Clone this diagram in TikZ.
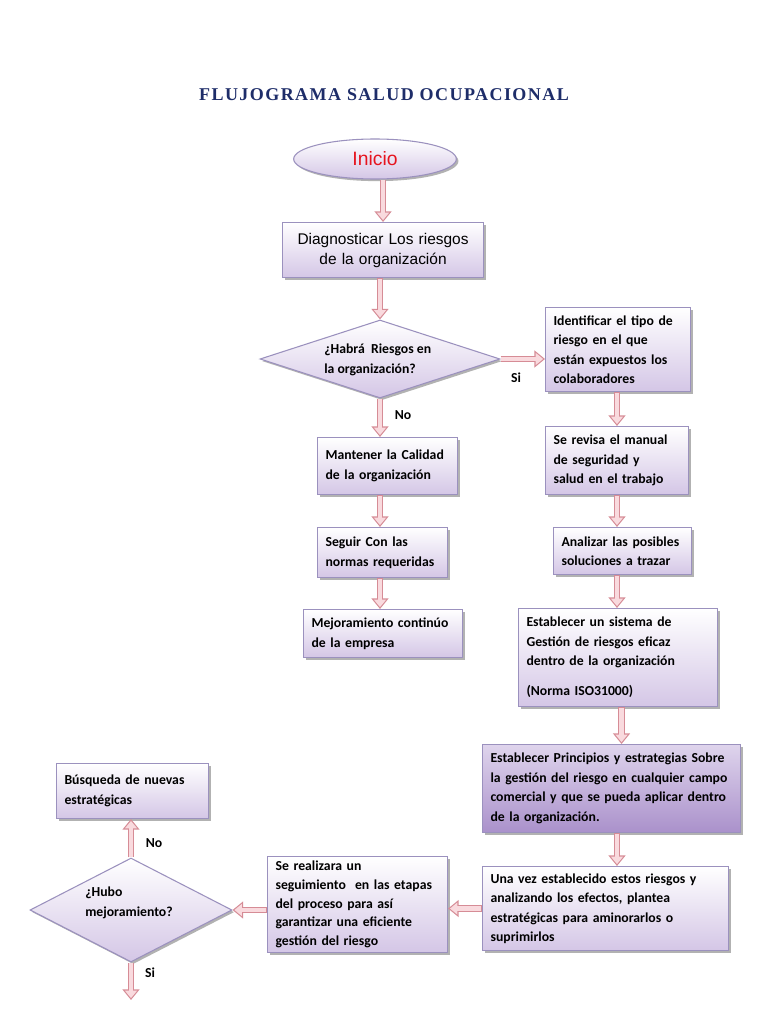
\documentclass[tikz,border=0pt]{standalone}
\usepackage{fontspec}
\setmainfont{Carlito}
\newfontfamily\arialfont{Liberation Sans}
\newfontfamily\titlefont[LetterSpace=8]{Liberation Serif}
\usetikzlibrary{shapes.geometric,arrows.meta,shadows}
\definecolor{boxedge}{RGB}{155,145,190}
\definecolor{boxlav}{RGB}{212,198,230}
\definecolor{boxdeep}{RGB}{170,145,203}
\definecolor{arrowedge}{RGB}{214,140,150}
\definecolor{arrowfill}{RGB}{249,218,222}
\definecolor{titleblue}{RGB}{30,45,105}
\definecolor{inired}{RGB}{230,20,30}
\begin{document}
\begin{tikzpicture}[x=0.75pt,y=-0.75pt,
  lavfill/.style={top color=white, bottom color=boxlav, draw=boxedge, line width=0.8pt},
  shadowed/.style={drop shadow={shadow xshift=1.6pt, shadow yshift=-1.6pt, fill=black, opacity=0.3}},
  box/.style={lavfill, shadowed, rectangle, anchor=north west, inner xsep=6pt, inner ysep=1pt,
    align=left, font=\fontsize{10.3}{14.6}\selectfont\bfseries},
  dia/.style={diamond, lavfill, shadowed, inner sep=0pt},
  dtext/.style={anchor=west, align=left, inner sep=0pt, font=\fontsize{10.3}{14.6}\selectfont\bfseries},
  lbl/.style={inner sep=0pt, font=\fontsize{10.3}{12}\selectfont\bfseries},
  blk/.style={line width=5pt, draw=arrowedge, -{Triangle[length=8pt,width=12.5pt]},
    postaction={draw=arrowfill, line width=3.2pt, -{Triangle[length=5.6pt,width=8.8pt]}, shorten >=1.4pt, shorten <=0.6pt}}
]
\useasboundingbox (0,0) rectangle (768,1024);
\fill[white] (0,0) rectangle (768,1024);

% title
\node[font=\titlefont\fontsize{13.5}{15}\selectfont\bfseries, text=titleblue, inner sep=0pt] (title) at (384,95) {FLUJOGRAMA SALUD OCUPACIONAL};

% column guides
\coordinate (colL) at (380,0);
\coordinate (colR) at (617,0);

% start
\node[ellipse, lavfill, shadowed, minimum width=122pt, minimum height=30pt, inner sep=0pt,
  font=\arialfont\fontsize{14.5}{16}\selectfont, text=inired] (ini) at (375,159) {Inicio};

\node[box, align=center, font=\arialfont\fontsize{11.6}{15}\selectfont,
  minimum width=150.75pt, minimum height=41.25pt, text width=138.75pt] (diag) at (282,222)
  {Diagnosticar Los riesgos\\ de la organización};

% decision 1
\node[dia, minimum width=180pt, minimum height=58.5pt] (d1) at (380,359) {};
\node[dtext] (d1t) at (324,360) {¿Habrá\ \ Riesgos en\\ la organización?};

% right column
\node[box, minimum width=108.75pt, minimum height=63pt, text width=96.75pt] (identif) at (545,307)
  {Identificar el tipo de\\ riesgo en el que\\ están expuestos los\\ colaboradores};
\node[box, minimum width=107.25pt, minimum height=51pt, text width=95.25pt] (revisa) at (545,426)
  {Se revisa el manual\\ de seguridad y\\ salud en el trabajo};
\node[box, minimum width=103.5pt, minimum height=35.25pt, text width=91.5pt] (analizar) at (553,527)
  {Analizar las posibles\\ soluciones a trazar};
\node[box, minimum width=149.25pt, minimum height=73.5pt, text width=137.25pt] (sistema) at (518,608)
  {Establecer un sistema de\\ Gestión de riesgos eficaz\\ dentro de la organización\\[8pt] (Norma ISO31000)};
\node[box, top color=boxlav!75!white, bottom color=boxdeep, minimum width=193.5pt, minimum height=66pt, text width=181.5pt] (principios) at (482,744)
  {Establecer Principios y estrategias Sobre\\ la gestión del riesgo en cualquier campo\\ comercial y que se pueda aplicar dentro\\ de la organización.};
\node[box, minimum width=184.5pt, minimum height=63pt, text width=172.5pt] (unavez) at (482,866)
  {Una vez establecido estos riesgos y\\ analizando los efectos, plantea\\ estratégicas para aminorarlos o\\ suprimirlos};
\node[box, minimum width=135pt, minimum height=72pt, text width=123pt, font=\fontsize{10.3}{14.1}\selectfont\bfseries] (realizara) at (267,856)
  {Se realizara un\\ seguimiento\ \ en las etapas\\ del proceso para así\\ garantizar una eficiente\\ gestión del riesgo};

% left column
\node[box, minimum width=105pt, minimum height=42.75pt, text width=93pt] (mantener) at (317,437)
  {Mantener la Calidad\\ de la organización};
\node[box, minimum width=97.5pt, minimum height=37.5pt, text width=85.5pt] (seguir) at (317,527)
  {Seguir Con las\\ normas requeridas};
\node[box, minimum width=119.25pt, minimum height=36pt, text width=107.25pt] (mejora) at (303,609)
  {Mejoramiento continúo\\ de la empresa};

% decision 2
\node[dia, minimum width=151.5pt, minimum height=78pt] (d2) at (131,910) {};
\node[dtext] (d2t) at (85,903) {¿Hubo\\ mejoramiento?};
\node[box, minimum width=114pt, minimum height=41.25pt, text width=102pt] (busqueda) at (56,763)
  {Búsqueda de nuevas\\ estratégicas};
\coordinate (fin) at (131,1000);

% connectors
\draw[blk] (ini.south -| diag.north) -- (diag.north);
\draw[blk] (diag.south -| d1.north) -- (d1.north);
\draw[blk] (d1.east) -- (d1.east -| identif.west);
\draw[blk] (d1.south) -- (d1.south |- mantener.north);
\draw[blk] (mantener.south -| colL) -- (seguir.north -| colL);
\draw[blk] (seguir.south -| colL) -- (mejora.north -| colL);
\draw[blk] (identif.south -| colR) -- (revisa.north -| colR);
\draw[blk] (revisa.south -| colR) -- (analizar.north -| colR);
\draw[blk] (analizar.south -| colR) -- (sistema.north -| colR);
\draw[blk] (sistema.south -| principios.north) ++(10,0) coordinate (sp) (sp) -- (sp |- principios.north);
\draw[blk] (principios.south -| colR) -- (unavez.north -| colR);
\draw[blk] (unavez.west) -- (unavez.west -| realizara.east);
\draw[blk] (realizara.west |- d2.east) -- (d2.east);
\draw[blk] (d2.north) -- (d2.north |- busqueda.south);
\draw[blk] (d2.south) -- (fin);

% labels
\node[lbl] (lsi1) at (516,378) {Si};
\node[lbl] (lno1) at (403,415) {No};
\node[lbl] (lno2) at (154,843) {No};
\node[lbl] (lsi2) at (150,973) {Si};
\end{tikzpicture}
\end{document}
